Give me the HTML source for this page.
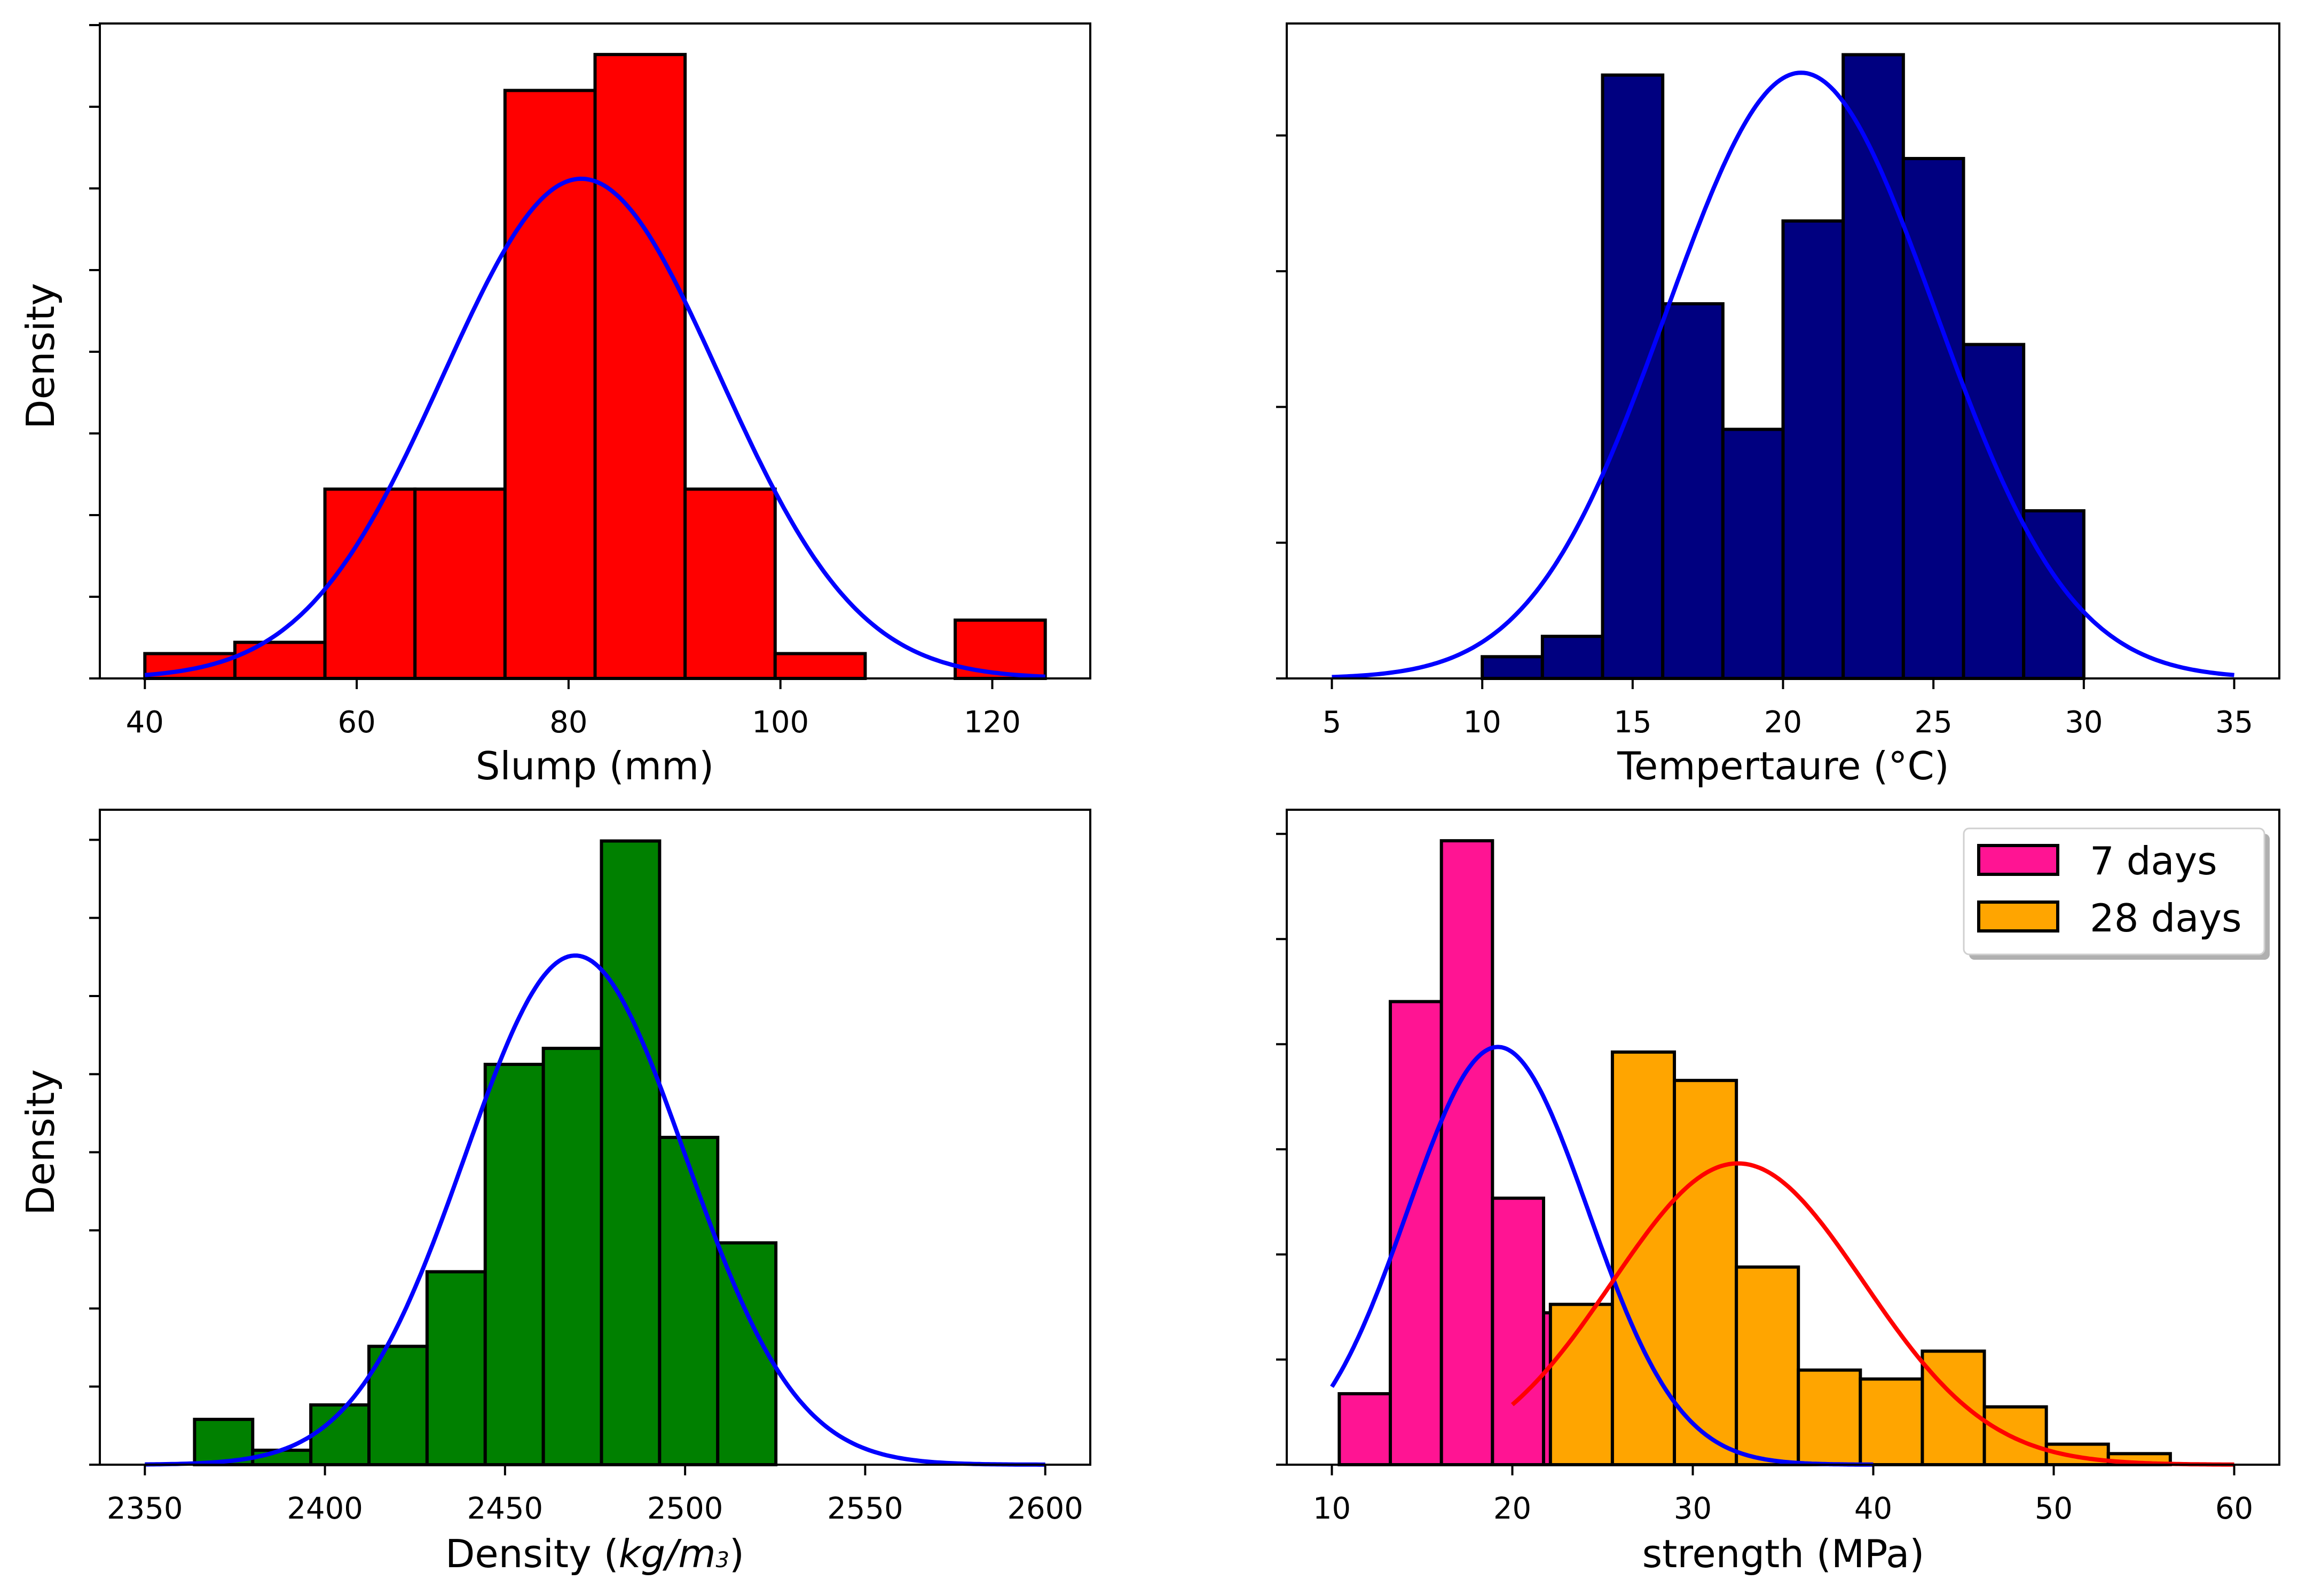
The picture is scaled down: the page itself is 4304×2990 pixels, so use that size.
<!DOCTYPE html>
<html><head><meta charset="utf-8">
<style>
html,body{margin:0;padding:0;background:#fff;}
svg{display:block;font-family:"DejaVu Sans","Liberation Sans",sans-serif;}
</style></head>
<body>
<svg id="fig" width="4304" height="2990" viewBox="0 0 4304 2990" xmlns="http://www.w3.org/2000/svg"></svg>
<script>
// ---- Panel 1: Slump ----
const slumpBinStart = 40;
const slumpBinWidth = 8.5;
const slumpDensity = [0.00152, 0.00221, 0.01159, 0.01159, 0.0360, 0.0382, 0.01159, 0.00152, 0, 0.00357];
const slumpFit = [81.2, 13.04];
const slumpFitRange = [40, 125];
const slumpXTicks = [40, 60, 80, 100, 120];
const slumpYTicks = [0, 0.005, 0.01, 0.015, 0.02, 0.025, 0.03, 0.035, 0.04];
// ---- Panel 2: Temperature ----
const tempBinStart = 10;
const tempBinWidth = 2;
const tempDensity = [0.0032, 0.0062, 0.0889, 0.0552, 0.0367, 0.0674, 0.0919, 0.0766, 0.0492, 0.0247];
const tempFit = [20.6, 4.47];
const tempFitRange = [5, 35];
const tempXTicks = [5, 10, 15, 20, 25, 30, 35];
const tempYTicks = [0, 0.02, 0.04, 0.06, 0.08];
// ---- Panel 3: Density ----
const densBinStart = 2363.8;
const densBinWidth = 16.14;
const densDensity = [0.00116, 0.00037, 0.00153, 0.00303, 0.00494, 0.01025, 0.01066, 0.01597, 0.00838, 0.00568];
const densFit = [2469.5, 30.6];
const densFitRange = [2350, 2600];
const densXTicks = [2350, 2400, 2450, 2500, 2550, 2600];
const densYTicks = [0, 0.002, 0.004, 0.006, 0.008, 0.01, 0.012, 0.014, 0.016];
// ---- Panel 4: Strength ----
const s7BinStart = 10.41;
const s7BinWidth = 2.83;
const s7Density = [0.0135, 0.0881, 0.1187, 0.0507, 0.0289];
const s28BinStart = 22.11;
const s28BinWidth = 3.435;
const s28Density = [0.0305, 0.0785, 0.0731, 0.0376, 0.0180, 0.0163, 0.0216, 0.0110, 0.0039, 0.0021];
const s7Fit = [19.2, 5.02];
const s7FitRange = [10, 40];
const s28Fit = [32.5, 6.96];
const s28FitRange = [20, 60];
const strXTicks = [10, 20, 30, 40, 50, 60];
const strYTicks = [0, 0.02, 0.04, 0.06, 0.08, 0.1, 0.12];

const NS = "http://www.w3.org/2000/svg";
const fig = document.getElementById('fig');
function mk(tag, attrs, parent){
  const e = document.createElementNS(NS, tag);
  for (const k in attrs) e.setAttribute(k, attrs[k]);
  (parent||fig).appendChild(e);
  return e;
}
function normal(x, m, s){ return Math.exp(-0.5*((x-m)/s)**2)/(s*Math.sqrt(2*Math.PI)); }

function panel(cfg){
  const g = mk('g', {});
  
  
  const L=cfg.box[0], R=cfg.box[1], T=cfg.box[2], B=cfg.box[3];
  const xs = v => L + (v-cfg.xlim[0])/(cfg.xlim[1]-cfg.xlim[0])*(R-L);
  const ys = v => B - (v-0)/(cfg.ylim)*(B-T);
  cfg.hists.forEach(h=>{
    h.vals.forEach((v,i)=>{
      if (v<=0) return;
      const x0 = xs(h.start + i*h.width), x1 = xs(h.start+(i+1)*h.width);
      const r = mk('rect', {x:x0, y:ys(v), width:x1-x0, height:B-ys(v), fill:h.color, stroke:'#000', 'stroke-width':6}, g);
      
      
    });
  });
  cfg.fits.forEach(f=>{
    let d='';
    const n=300;
    for(let i=0;i<=n;i++){
      const x=f.range[0]+(f.range[1]-f.range[0])*i/n;
      d += (i?'L':'M')+xs(x).toFixed(1)+','+ys(normal(x,f.p[0],f.p[1])).toFixed(1);
    }
    const p = mk('path', {d:d, fill:'none', stroke:f.color, 'stroke-width':8}, g);
    
    
  });
  const fr = mk('rect', {x:L, y:T, width:R-L, height:B-T, fill:'none', stroke:'#000', 'stroke-width':4}, g);
  
  
  cfg.xticks.forEach(t=>{
    const x=xs(t);
    const tk = mk('line', {x1:x, x2:x, y1:B, y2:B+20, stroke:'#000', 'stroke-width':4}, g);
    
    
    const tx = mk('text', {x:x, y:B+101, 'text-anchor':'middle', 'font-size':56, fill:'#000'}, g);
    tx.textContent = t;
    
    
  });
  cfg.yticks.forEach(t=>{
    const y=ys(t);
    const tk = mk('line', {x1:L-20, x2:L, y1:y, y2:y, stroke:'#000', 'stroke-width':4}, g);
    
    
  });
}

const P1=[187,2042,44,1271], P2=[2410,4269,44,1271], P3=[187,2042,1517,2744], P4=[2410,4269,1517,2744];
panel({name:'slump-panel', box:P1, xlim:[35.75,129.25], ylim:0.0401, xticks:slumpXTicks, yticks:slumpYTicks,
  hists:[{start:slumpBinStart,width:slumpBinWidth,vals:slumpDensity,color:'#ff0000',label:'slump'}],
  fits:[{p:slumpFit,range:slumpFitRange,color:'#0000ff',name:'slump-normal-curve'}]});
panel({name:'temperature-panel', box:P2, xlim:[3.5,36.5], ylim:0.0965, xticks:tempXTicks, yticks:tempYTicks,
  hists:[{start:tempBinStart,width:tempBinWidth,vals:tempDensity,color:'#000080',label:'temperature'}],
  fits:[{p:tempFit,range:tempFitRange,color:'#0000ff',name:'temperature-normal-curve'}]});
panel({name:'density-panel', box:P3, xlim:[2337.5,2612.5], ylim:0.01677, xticks:densXTicks, yticks:densYTicks,
  hists:[{start:densBinStart,width:densBinWidth,vals:densDensity,color:'#008000',label:'density'}],
  fits:[{p:densFit,range:densFitRange,color:'#0000ff',name:'density-normal-curve'}]});
panel({name:'strength-panel', box:P4, xlim:[7.5,62.5], ylim:0.1246, xticks:strXTicks, yticks:strYTicks,
  hists:[{start:s7BinStart,width:s7BinWidth,vals:s7Density,color:'#ff1493',label:'7-days'},
         {start:s28BinStart,width:s28BinWidth,vals:s28Density,color:'#ffa500',label:'28-days'}],
  fits:[{p:s7Fit,range:s7FitRange,color:'#0000ff',name:'7-days-normal-curve'},
        {p:s28Fit,range:s28FitRange,color:'#ff0000',name:'28-days-normal-curve'}]});
</script>
<script>
(function(){
  const fig=document.getElementById('fig');
  fig.insertAdjacentHTML('beforeend', `
  <text x="1114" y="1460" text-anchor="middle" font-size="72">Slump (mm)</text>
  <text x="3340" y="1460" text-anchor="middle" font-size="72">Tempertaure (°C)</text>
  <text x="1114" y="2936" text-anchor="middle" font-size="72">Density (<tspan font-style="italic">kg/m</tspan><tspan font-size="40" font-style="italic">3</tspan>)</text>
  <text x="3340" y="2936" text-anchor="middle" font-size="72">strength (MPa)</text>
  <text transform="translate(101,667) rotate(-90)" text-anchor="middle" font-size="72">Density</text>
  <text transform="translate(101,2140) rotate(-90)" text-anchor="middle" font-size="72">Density</text>
  <g>
    <rect x="3688" y="1562" width="563" height="236" rx="10" fill="#b0b0b0"/>
    <rect x="3678" y="1552" width="563" height="236" rx="10" fill="#fff" stroke="#d0d0d0" stroke-width="3"/>
    <rect x="3706" y="1584" width="148" height="54" fill="#ff1493" stroke="#000" stroke-width="6"/>
    <text x="3914" y="1638" font-size="72">7 days</text>
    <rect x="3706" y="1690" width="148" height="54" fill="#ffa500" stroke="#000" stroke-width="6"/>
    <text x="3914" y="1745" font-size="72">28 days</text>
  </g>`);
})();
</script>
</body></html>
